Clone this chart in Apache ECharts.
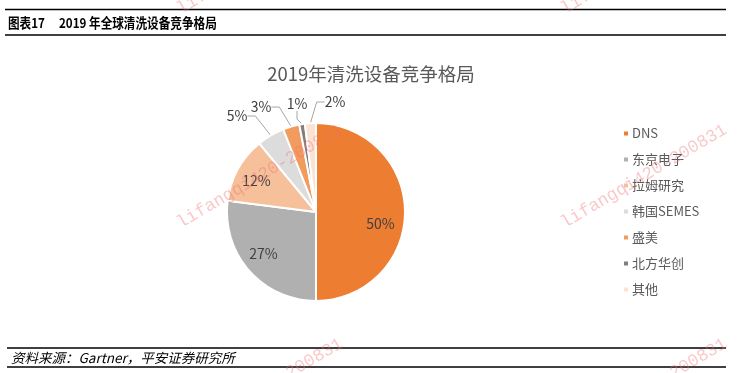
<!DOCTYPE html>
<html lang="zh">
<head>
    <meta charset="UTF-8">
    <title>2019年清洗设备竞争格局</title>
    <script src="https://cdn.jsdelivr.net/npm/echarts@6/dist/echarts.min.js"></script>
    <style>
        html, body { margin: 0; padding: 0; background: #fff; }
    </style>
</head>
<body>
<div id="main" style="width: 737px;height:373px;"></div>
<script>
    // 厂商 和 市场份额(%)
    var companies = ['DNS', '东京电子', '拉姆研究', '韩国SEMES', '盛美', '北方华创', '其他'];
    var shares = [50, 27, 12, 5, 3, 1, 2];
    var colors = ['#ED7D31', '#B0B0B0', '#F6C09A', '#DCDCDC', '#F29B5E', '#7F7F7F', '#FBE2D2'];

    // 标签微调: 大块放里面(偏移), 小块放外面(固定位置)
    var insideOffset = [[17, 12], [-17, 10], [-18, -8]];
    var outsidePos = [null, null, null, [237, 116], [261, 107], [297, 104], [335, 102]];

    var cjk = '"Noto Sans CJK SC", "Noto Sans", sans-serif';
    var myChart = echarts.init(document.getElementById('main'));

    var pieData = companies.map(function (name, i) {
        var inside = shares[i] >= 10;
        return {
            name: name,
            value: shares[i],
            itemStyle: { color: colors[i] },
            label: inside ? { position: 'inside', offset: insideOffset[i] } : { position: 'outside' },
            labelLine: { show: !inside }
        };
    });

    // 水印
    var markStarts = [[183, 18], [567, 18], [183, 232], [567, 232], [183, 446], [567, 446]];
    var watermarkEls = markStarts.map(function (p) {
        return {
            type: 'text',
            x: p[0], y: p[1],
            rotation: 30.4 * Math.PI / 180,
            silent: true,
            z: 100,
            style: {
                text: 'lifangqi420-200831',
                fill: 'rgba(240,110,110,0.38)',
                font: '17.5px "Liberation Mono", monospace',
                align: 'left',
                verticalAlign: 'bottom'
            }
        };
    });

    var option = {
        backgroundColor: '#fff',
        title: {
            text: '2019年清洗设备竞争格局',
            left: 366,
            textAlign: 'center',
            top: 60,
            textStyle: {
                color: '#595959',
                fontSize: 18.5,
                fontWeight: 'normal',
                fontFamily: cjk
            }
        },
        legend: {
            orient: 'vertical',
            left: 617,
            top: 122,
            itemWidth: 6,
            itemHeight: 6,
            itemGap: 13,
            icon: 'rect',
            data: companies,
            textStyle: {
                color: '#595959',
                fontSize: 13,
                fontFamily: cjk,
                padding: [0, 0, 0, -2]
            }
        },
        graphic: [
            { type: 'line', shape: { x1: 5, y1: 9.5, x2: 726, y2: 9.5 }, style: { stroke: '#000', lineWidth: 1.5 } },
            { type: 'line', shape: { x1: 5, y1: 35, x2: 726, y2: 35 }, style: { stroke: '#000', lineWidth: 1.5 } },
            { type: 'text', x: 8, y: 22.5, scaleX: 0.86, style: { text: '图表17', font: 'bold 13.5px ' + cjk, fill: '#000', verticalAlign: 'middle' } },
            { type: 'text', x: 59, y: 22.5, scaleX: 0.86, style: { text: '2019 年全球清洗设备竞争格局', font: 'bold 13.5px ' + cjk, fill: '#000', verticalAlign: 'middle' } },
            { type: 'line', shape: { x1: 7, y1: 348, x2: 726, y2: 348 }, style: { stroke: '#000', lineWidth: 1.5 } },
            { type: 'line', shape: { x1: 7, y1: 367, x2: 726, y2: 367 }, style: { stroke: '#000', lineWidth: 1.5 } },
            { type: 'text', x: 11, y: 358, style: { text: '资料来源：Gartner，平安证券研究所', font: 'italic 13.5px ' + cjk, fill: '#000', verticalAlign: 'middle' } }
        ].concat(watermarkEls),
        series: [{
            name: '市场份额',
            type: 'pie',
            center: [316, 212],
            radius: [0, 89],
            startAngle: 90,
            clockwise: true,
            avoidLabelOverlap: false,
            itemStyle: { borderColor: '#fff', borderWidth: 2 },
            label: {
                formatter: '{c}%',
                color: '#404040',
                fontSize: 14,
                fontFamily: cjk
            },
            labelLine: {
                length: 8,
                length2: 8,
                lineStyle: { color: '#A6A6A6', width: 1 }
            },
            labelLayout: function (params) {
                var p = outsidePos[params.dataIndex];
                if (!p) {
                    return {};
                }
                return { x: p[0], y: p[1], align: 'center', verticalAlign: 'middle' };
            },
            data: pieData
        }]
    };

    myChart.setOption(option);
</script>
</body>
</html>
